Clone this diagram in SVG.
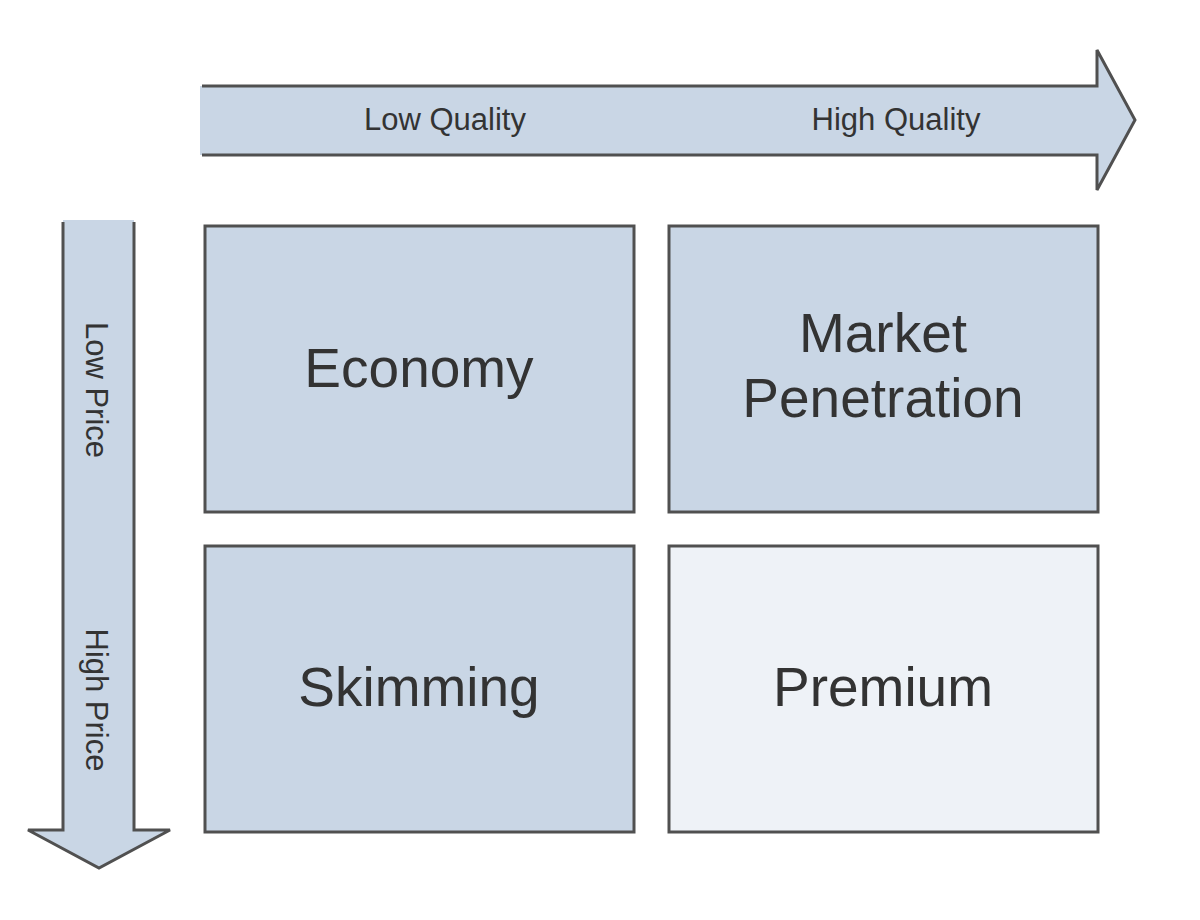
<svg xmlns="http://www.w3.org/2000/svg" width="1200" height="920" viewBox="0 0 1200 920">
<style>
.box{fill:#c9d6e5;stroke:#505050;stroke-width:3}
.light{fill:#eef2f7}
.big{font-family:"Liberation Sans",Arial,sans-serif;font-size:55px;fill:#333;text-anchor:middle}
.ax{font-family:"Liberation Sans",Arial,sans-serif;font-size:31px;fill:#333;text-anchor:middle}
.afill{fill:#c9d6e5;stroke:none}
.aline{fill:none;stroke:#505050;stroke-width:3;stroke-linejoin:miter}
</style>
<rect width="1200" height="920" fill="#ffffff"/>
<g id="connectors">
  <g id="quality-axis">
    <polygon class="afill" points="200,86 1097,86 1097,50 1135,120 1097,190 1097,155 200,155"/>
    <polyline class="aline" points="202,86 1097,86 1097,50 1135,120 1097,190 1097,155 202,155"/>
    <text class="ax" x="445" y="130">Low Quality</text>
    <text class="ax" x="896" y="130">High Quality</text>
  </g>
  <g id="price-axis">
    <polygon class="afill" points="63,220 134,220 134,830 170,830 99,868 28,830 63,830"/>
    <polyline class="aline" points="63,222 63,830 28,830 99,868 170,830 134,830 134,222"/>
    <text class="ax" transform="translate(86,390) rotate(90)" x="0" y="0">Low Price</text>
    <text class="ax" transform="translate(86,700) rotate(90)" x="0" y="0">High Price</text>
  </g>
</g>
<g id="economy">
  <rect class="box" x="205" y="226" width="429" height="286"/>
  <text class="big" x="419" y="387">Economy</text>
</g>
<g id="market-penetration">
  <rect class="box" x="669" y="226" width="429" height="286"/>
  <text class="big" x="883" y="352">Market</text>
  <text class="big" x="883" y="417">Penetration</text>
</g>
<g id="skimming">
  <rect class="box" x="205" y="546" width="429" height="286"/>
  <text class="big" x="419" y="706">Skimming</text>
</g>
<g id="premium">
  <rect class="box light" x="669" y="546" width="429" height="286"/>
  <text class="big" x="883" y="706">Premium</text>
</g>
</svg>
